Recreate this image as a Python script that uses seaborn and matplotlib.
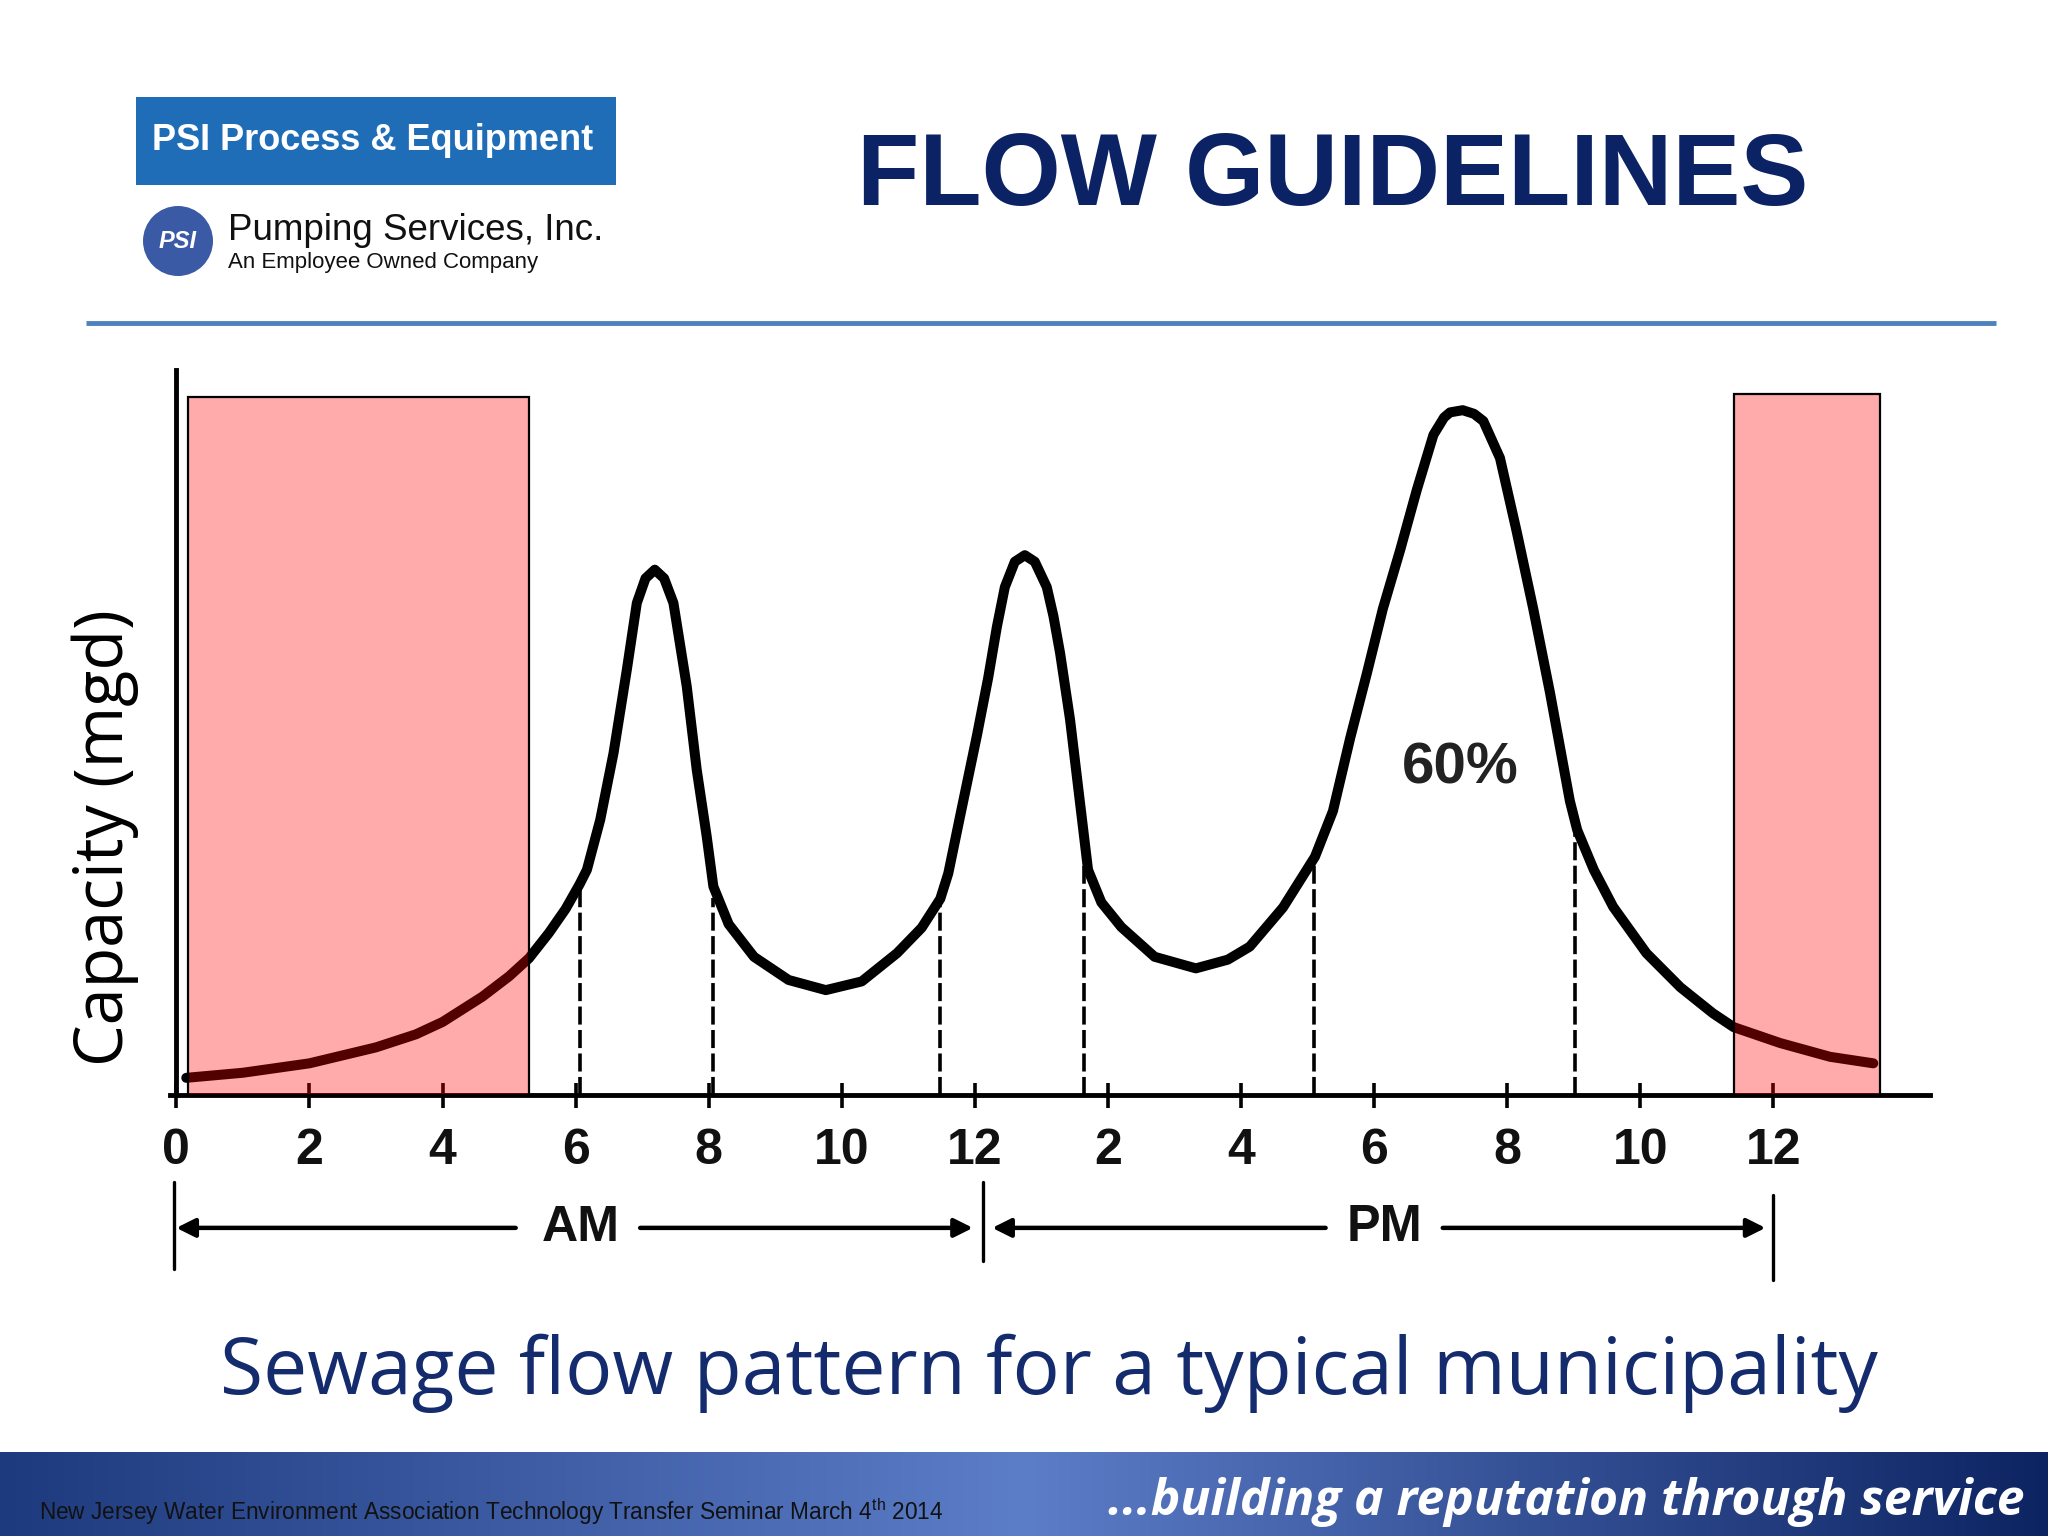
import numpy as np
import pandas as pd
import matplotlib
matplotlib.use("Agg")
import matplotlib.pyplot as plt
import seaborn as sns
from matplotlib import font_manager as fm
from matplotlib.patches import Rectangle, Circle

# ---------------- data ----------------
hours = [0.15, 1.0, 2.0, 3.0, 3.6, 4.0, 4.6, 5.0, 5.3, 5.6, 5.85, 6.06, 6.17, 6.37, 6.57,
         6.77, 6.92, 7.05, 7.19, 7.33, 7.47, 7.67, 7.82, 7.97, 8.07, 8.3, 8.68, 9.2, 9.76,
         10.3, 10.83, 11.2, 11.48, 11.6, 11.78, 12.03, 12.2, 12.33, 12.45, 12.6, 12.75,
         12.9, 13.08, 13.18, 13.28, 13.43, 13.58, 13.7, 13.9, 14.2, 14.7, 15.32, 15.8,
         16.13, 16.63, 17.11, 17.38, 17.64, 17.89, 18.13, 18.39, 18.64, 18.89, 19.05,
         19.14, 19.33, 19.5, 19.64, 19.89, 20.14, 20.39, 20.64, 20.94, 21.05, 21.3, 21.59,
         22.09, 22.6, 23.09, 23.4, 24.1, 24.85, 25.5]
capacity = [2.3, 3.0, 4.3, 6.5, 8.3, 10.0, 13.5, 16.3, 18.8, 22.3, 25.6, 29.0, 31.0, 37.9, 47.1,
            58.6, 67.8, 71.2, 72.4, 71.2, 67.8, 56.3, 44.8, 35.6, 28.7, 23.5, 19.0, 15.8, 14.4,
            15.6, 19.5, 23.0, 27.0, 30.5, 38.5, 49.5, 57.5, 64.5, 70.0, 73.5, 74.4,
            73.5, 70.0, 66.0, 60.9, 51.7, 40.2, 31.0, 26.5, 23.1, 19.0, 17.4, 18.6,
            20.4, 25.8, 32.8, 39.1, 49.2, 58.1, 67.0, 75.1, 83.4, 91.0, 93.4,
            94.1, 94.4, 93.9, 92.9, 87.8, 77.7, 67.0, 55.5, 40.5, 36.5, 31.0, 25.9,
            19.5, 14.8, 11.2, 9.3, 7.1, 5.2, 4.3]

tick_hours = [0, 2, 4, 6, 8, 10, 12, 14, 16, 18, 20, 22, 24]
tick_labels = ["0", "2", "4", "6", "8", "10", "12", "2", "4", "6", "8", "10", "12"]

marker_hours = [6.06, 8.06, 11.48, 13.64, 17.1, 21.02]
marker_tops = [29.2, 27.1, 26.7, 31.5, 33.3, 36.8]

window_starts = [0.18, 23.4]
window_ends = [5.3, 25.6]
window_tops = [96.2, 96.6]

peak_label = "60%"
peak_label_hour = 19.29
peak_label_value = 45.0

title = "FLOW GUIDELINES"
subtitle = "Sewage flow pattern for a typical municipality"
ylabel = "Capacity (mgd)"
footer_left = r"New Jersey Water Environment Association Technology Transfer Seminar March 4$^{\mathregular{th}}$ 2014"
footer_right = "...building a reputation through service"
logo_top = "PSI Process & Equipment"
logo_name = "Pumping Services, Inc."
logo_tag = "An Employee Owned Company"

# ---------------- style ----------------
sns.set_theme(style="white")
names = {f.name for f in fm.fontManager.ttflist}
def pick(*cands):
    for c in cands:
        if c in names:
            return c
    return "DejaVu Sans"
NARROW = pick("Liberation Sans Narrow", "Liberation Sans", "DejaVu Sans")
ARIAL = pick("Liberation Sans", "DejaVu Sans")
OPEN = pick("Open Sans", "Noto Sans", "DejaVu Sans")
plt.rcParams["font.family"] = [ARIAL, "DejaVu Sans"]

W, H = 2048, 1536
fig = plt.figure(figsize=(W / 100, H / 100), dpi=100)
fig.patch.set_facecolor("white")

bg = fig.add_axes([0, 0, 1, 1])
bg.axis("off")

# footer gradient band
xs = np.linspace(0, 1, 512)
stops = [0.0, 0.5, 1.0]
cols = np.array([[30, 58, 126], [92, 125, 200], [13, 36, 98]]) / 255.0
grad = np.stack([np.interp(xs, stops, cols[:, k]) for k in range(3)], axis=-1)[None, :, :]
grad = np.repeat(grad, 4, axis=0)
bg.imshow(grad, extent=[0, W, 1536, 1452], aspect="auto", interpolation="bilinear")
bg.set_xlim(0, W)
bg.set_ylim(H, 0)

renderer = fig.canvas.get_renderer()
def fit(t, target, use_height=False):
    bb = t.get_window_extent(renderer)
    cur = bb.height if use_height else bb.width
    t.set_fontsize(t.get_fontsize() * target / cur)
    return t

# logo
bg.add_patch(Rectangle((136, 97), 480, 88, facecolor="#1f6db6", edgecolor="none"))
t = bg.text(373, 141, logo_top, color="white", fontweight="bold", family=[ARIAL],
            ha="center", va="center", fontsize=25)
fit(t, 443)
bg.add_patch(Circle((178, 241), 35, facecolor="#3a5aa5", edgecolor="none"))
bg.text(178, 241, "PSI", color="white", fontsize=17, ha="center", va="center",
        family=[ARIAL], fontweight="bold", fontstyle="italic")
t = bg.text(228, 240, logo_name, color="#111111", family=[NARROW], ha="left",
            va="baseline", fontsize=28)
fit(t, 375)
t = bg.text(228, 268, logo_tag, color="#111111", family=[NARROW], ha="left",
            va="baseline", fontsize=19)
fit(t, 310)

# title & rule
t = bg.text(1333, 179, title, color="#0b2265", fontweight="bold", family=[ARIAL],
            ha="center", va="center", fontsize=75)
fit(t, 951)
bg.plot([86, 1996], [323, 323], color="#4f81bd", lw=3.5, solid_capstyle="butt")

# y label
t = bg.text(105, 838, ylabel, rotation=90, color="black", family=[OPEN],
            ha="center", va="center", fontsize=44)
fit(t, 457, use_height=True)

# subtitle
t = bg.text(1049, 1373, subtitle, color="#142c6e", family=[OPEN],
            ha="center", va="center", fontsize=55)
fit(t, 1659)

# footer texts
t = bg.text(39, 1512, footer_left, color="#111111", family=[NARROW], ha="left",
            va="center", fontsize=16)
fit(t, 908)
t = bg.text(2024, 1502, footer_right, color="white", family=[OPEN], fontweight="bold",
            fontstyle="italic", ha="right", va="center", fontsize=33)
fit(t, 917)

# ---------------- main chart ----------------
x0h, x1h = -0.3, 26.4
left_px = 176.3 + x0h * 66.55
right_px = 176.3 + x1h * 66.55
base_px, top_px = 1094.5, 369.6
ax = fig.add_axes([left_px / W, (H - base_px) / H, (right_px - left_px) / W,
                   (base_px - top_px) / H])
ax.set_facecolor("none")

df = pd.DataFrame({"hour": hours, "capacity": capacity})
sns.lineplot(data=df, x="hour", y="capacity", ax=ax, color="black", linewidth=7.2,
             sort=True, zorder=2)
line = ax.get_lines()[-1]
line.set_solid_joinstyle("round")
line.set_solid_capstyle("round")

ax.vlines(marker_hours, 0, marker_tops, colors="black", linestyles=(0, (5, 1.5)),
          linewidth=2.6, zorder=2)

for s, e, tp in zip(window_starts, window_ends, window_tops):
    ax.add_patch(Rectangle((s, 0), e - s, tp, facecolor=(1.0, 0.0, 0.0, 0.33),
                           edgecolor="black", linewidth=1.6, zorder=3))

ax.text(peak_label_hour, peak_label_value, peak_label, family=[NARROW],
        fontweight="bold", color="#222222", ha="center", va="center", fontsize=42)

ax.set_xlim(x0h, x1h)
ax.set_ylim(0, 100)
ax.set_xlabel("")
ax.set_ylabel("")
ax.set_yticks([])
ax.set_xticks(tick_hours)
ax.set_xticklabels(tick_labels)
for lab in ax.get_xticklabels():
    lab.set_family([NARROW])
    lab.set_fontweight("bold")
    lab.set_fontsize(36)
    lab.set_color("#111111")
ax.tick_params(axis="x", direction="inout", length=18, width=2.6, color="black", pad=15,
               bottom=True)
for sp in ["top", "right"]:
    ax.spines[sp].set_visible(False)
ax.spines["left"].set_position(("data", 0.0))
ax.spines["left"].set_bounds(0, 100)
ax.spines["bottom"].set_bounds(-0.1, 26.35)
for sp in ["left", "bottom"]:
    ax.spines[sp].set_linewidth(3.5)
    ax.spines[sp].set_color("black")

# AM / PM row
yb = -18.4
ap = dict(arrowstyle="-|>", color="black", lw=3.2, mutation_scale=28, shrinkA=0, shrinkB=0)
ax.annotate("", xy=(0.0, yb), xytext=(5.1, yb), arrowprops=ap, annotation_clip=False)
t = ax.text(6.08, yb, "AM", family=[NARROW], fontweight="bold", color="#111111",
            ha="center", va="center", fontsize=44, clip_on=False)
fit(t, 78)
ax.annotate("", xy=(11.97, yb), xytext=(6.97, yb), arrowprops=ap, annotation_clip=False)
ax.annotate("", xy=(12.26, yb), xytext=(17.27, yb), arrowprops=ap, annotation_clip=False)
t = ax.text(18.15, yb, "PM", family=[NARROW], fontweight="bold", color="#111111",
            ha="center", va="center", fontsize=44, clip_on=False)
fit(t, 76)
ax.annotate("", xy=(23.88, yb), xytext=(19.03, yb), arrowprops=ap, annotation_clip=False)
for xh, ya, yb2 in [(-0.04, -12.1, -24.1), (12.12, -12.1, -22.9), (24.0, -13.9, -25.6)]:
    ax.plot([xh, xh], [ya, yb2], color="black", lw=2.4, clip_on=False)

fig.savefig("out.png", dpi=100, facecolor="white")
